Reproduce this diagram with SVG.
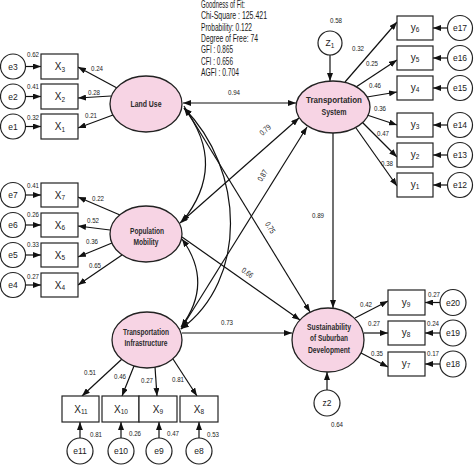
<svg xmlns="http://www.w3.org/2000/svg" width="474" height="467" viewBox="0 0 474 467">
<defs>
<marker id="ah" viewBox="0 0 8 6" refX="8" refY="3" markerWidth="8" markerHeight="6" markerUnits="userSpaceOnUse" orient="auto-start-reverse"><path d="M0,0 L8,3 L0,6 z" fill="#111"/></marker>
<style>
text{font-family:"Liberation Sans",Arial,sans-serif;fill:#1a1a1a}
.c{stroke:#111;stroke-width:1.2;fill:none}
.a{marker-end:url(#ah)}
.d{marker-start:url(#ah);marker-end:url(#ah)}
.box{fill:#fff;stroke:#222;stroke-width:1.2}
.cir{fill:#fff;stroke:#222;stroke-width:1.2}
.lat{fill:#f7d4e4;stroke:#222;stroke-width:1.3}
.n{font-size:8px;text-anchor:middle}
.t{font-size:9px;text-anchor:middle;font-weight:bold;fill:#2a2a2a}
.v{font-size:10px;text-anchor:middle}
.e{font-size:8.5px;text-anchor:middle}
.s{font-size:6.5px}
.g{font-size:10px}
</style>
</defs>
<rect width="474" height="467" fill="#fff"/>

<g id="fit">
<text class="g" x="201" y="8" textLength="44" lengthAdjust="spacingAndGlyphs">Goodness of Fit:</text>
<text class="g" x="201" y="19" textLength="66" lengthAdjust="spacingAndGlyphs">Chi-Square : 125.421</text>
<text class="g" x="201" y="31" textLength="51" lengthAdjust="spacingAndGlyphs">Probability: 0.122</text>
<text class="g" x="201" y="42" textLength="57" lengthAdjust="spacingAndGlyphs">Degree of Free: 74</text>
<text class="g" x="201" y="53" textLength="32" lengthAdjust="spacingAndGlyphs">GFI : 0.865</text>
<text class="g" x="201" y="65" textLength="32" lengthAdjust="spacingAndGlyphs">CFI : 0.656</text>
<text class="g" x="201" y="76" textLength="38" lengthAdjust="spacingAndGlyphs">AGFI : 0.704</text>
</g>

<g id="connectors">
<path class="c a" d="M25.5,66.5 H41"/>
<path class="c a" d="M25.5,96.5 H41"/>
<path class="c a" d="M25.5,126.5 H41"/>
<path class="c a" d="M25.5,195 H41"/>
<path class="c a" d="M25.5,225 H41"/>
<path class="c a" d="M25.5,255 H41"/>
<path class="c a" d="M25.5,285 H41"/>
<path class="c a" d="M117,88 L78,67"/>
<path class="c a" d="M111,96 L78,98"/>
<path class="c a" d="M113,115 L78,128"/>
<path class="c a" d="M120,215 L78,197"/>
<path class="c a" d="M110,230 L78,226"/>
<path class="c a" d="M112,243 L78,257"/>
<path class="c a" d="M122,255 L78,285"/>
<path class="c a" d="M122,359 L82,396"/>
<path class="c a" d="M134,366 L122,396"/>
<path class="c a" d="M155,367 L157,396"/>
<path class="c a" d="M173,359 L197,396"/>
<path class="c a" d="M80,438 V422"/>
<path class="c a" d="M121,438 V422"/>
<path class="c a" d="M159,438 V422"/>
<path class="c a" d="M199,438 V422"/>
<path class="c a" d="M345,82 L397,22"/>
<path class="c a" d="M356,87 L397,60"/>
<path class="c a" d="M367,97 L397,92"/>
<path class="c a" d="M367,115 L397,125"/>
<path class="c a" d="M362,122 L397,157"/>
<path class="c a" d="M356,128 L397,186"/>
<path class="c a" d="M447.5,28 H433"/>
<path class="c a" d="M447.5,58 H433"/>
<path class="c a" d="M447.5,88 H433"/>
<path class="c a" d="M447.5,125 H433"/>
<path class="c a" d="M447.5,155 H433"/>
<path class="c a" d="M447.5,185 H433"/>
<path class="c a" d="M355,318 L388,301"/>
<path class="c a" d="M364,333 L388,333"/>
<path class="c a" d="M361,353 L388,367"/>
<path class="c a" d="M440,302.5 H425"/>
<path class="c a" d="M440,333 H425"/>
<path class="c a" d="M440,364 H425"/>
<path class="c a" d="M330,55 V81"/>
<path class="c a" d="M327,390 V372"/>
<path class="c d" d="M183,103 L296,103"/>
<path class="c d" d="M180,223 L299,118"/>
<path class="c a" d="M181,329 L307,127"/>
<path class="c a" d="M184,106 L310,312"/>
<path class="c a" d="M182,237 L300,320"/>
<path class="c a" d="M182,333 L292,333"/>
<path class="c a" d="M333,133 L333,308"/>
<path class="c d" d="M184,108 Q228,165 182,222"/>
<path class="c d" d="M184,108 C245,170 248,280 181,329"/>
<path class="c d" d="M182,239 Q214,283 181,327"/>
</g>

<g id="path-labels">
<text class="n" x="234" y="95" textLength="12" lengthAdjust="spacingAndGlyphs">0.94</text>
<text class="n" transform="translate(267,132) rotate(-41)" textLength="12" lengthAdjust="spacingAndGlyphs">0.79</text>
<text class="n" transform="translate(265,177) rotate(-58)" textLength="12" lengthAdjust="spacingAndGlyphs">0.87</text>
<text class="n" transform="translate(268,229) rotate(58)" textLength="12" lengthAdjust="spacingAndGlyphs">0.75</text>
<text class="n" transform="translate(246,275) rotate(35)" textLength="12" lengthAdjust="spacingAndGlyphs">0.66</text>
<text class="n" x="227" y="325" textLength="12" lengthAdjust="spacingAndGlyphs">0.73</text>
<text class="n" x="318" y="218" textLength="12" lengthAdjust="spacingAndGlyphs">0.89</text>
<text class="n" x="336" y="23" textLength="12" lengthAdjust="spacingAndGlyphs">0.58</text>
<text class="n" x="337" y="427" textLength="12" lengthAdjust="spacingAndGlyphs">0.64</text>
<text class="n" x="33" y="57" textLength="12" lengthAdjust="spacingAndGlyphs">0.62</text>
<text class="n" x="33" y="89" textLength="12" lengthAdjust="spacingAndGlyphs">0.41</text>
<text class="n" x="33" y="120" textLength="12" lengthAdjust="spacingAndGlyphs">0.32</text>
<text class="n" x="97" y="71" textLength="12" lengthAdjust="spacingAndGlyphs">0.24</text>
<text class="n" x="94" y="95" textLength="12" lengthAdjust="spacingAndGlyphs">0.28</text>
<text class="n" x="91" y="118" textLength="12" lengthAdjust="spacingAndGlyphs">0.21</text>
<text class="n" x="33" y="188" textLength="12" lengthAdjust="spacingAndGlyphs">0.41</text>
<text class="n" x="33" y="217" textLength="12" lengthAdjust="spacingAndGlyphs">0.26</text>
<text class="n" x="33" y="247" textLength="12" lengthAdjust="spacingAndGlyphs">0.33</text>
<text class="n" x="33" y="279" textLength="12" lengthAdjust="spacingAndGlyphs">0.27</text>
<text class="n" x="98" y="201" textLength="12" lengthAdjust="spacingAndGlyphs">0.22</text>
<text class="n" x="93" y="223" textLength="12" lengthAdjust="spacingAndGlyphs">0.52</text>
<text class="n" x="92" y="244" textLength="12" lengthAdjust="spacingAndGlyphs">0.36</text>
<text class="n" x="95" y="268" textLength="12" lengthAdjust="spacingAndGlyphs">0.65</text>
<text class="n" x="90" y="375" textLength="12" lengthAdjust="spacingAndGlyphs">0.51</text>
<text class="n" x="120" y="379" textLength="12" lengthAdjust="spacingAndGlyphs">0.46</text>
<text class="n" x="147" y="383" textLength="12" lengthAdjust="spacingAndGlyphs">0.27</text>
<text class="n" x="178" y="382" textLength="12" lengthAdjust="spacingAndGlyphs">0.81</text>
<text class="n" x="96" y="437" textLength="12" lengthAdjust="spacingAndGlyphs">0.81</text>
<text class="n" x="135" y="436" textLength="12" lengthAdjust="spacingAndGlyphs">0.26</text>
<text class="n" x="173" y="436" textLength="12" lengthAdjust="spacingAndGlyphs">0.47</text>
<text class="n" x="213" y="437" textLength="12" lengthAdjust="spacingAndGlyphs">0.53</text>
<text class="n" x="358" y="51" textLength="12" lengthAdjust="spacingAndGlyphs">0.32</text>
<text class="n" x="372" y="66" textLength="12" lengthAdjust="spacingAndGlyphs">0.25</text>
<text class="n" x="375" y="88" textLength="12" lengthAdjust="spacingAndGlyphs">0.46</text>
<text class="n" x="380" y="111" textLength="12" lengthAdjust="spacingAndGlyphs">0.36</text>
<text class="n" x="383" y="136" textLength="12" lengthAdjust="spacingAndGlyphs">0.47</text>
<text class="n" x="387" y="166" textLength="12" lengthAdjust="spacingAndGlyphs">0.38</text>
<text class="n" x="366" y="307" textLength="12" lengthAdjust="spacingAndGlyphs">0.42</text>
<text class="n" x="374" y="326" textLength="12" lengthAdjust="spacingAndGlyphs">0.27</text>
<text class="n" x="377" y="356" textLength="12" lengthAdjust="spacingAndGlyphs">0.35</text>
<text class="n" x="434" y="297" textLength="12" lengthAdjust="spacingAndGlyphs">0.27</text>
<text class="n" x="433" y="326" textLength="12" lengthAdjust="spacingAndGlyphs">0.24</text>
<text class="n" x="433" y="356" textLength="12" lengthAdjust="spacingAndGlyphs">0.17</text>
</g>

<g id="land-use"><ellipse class="lat" cx="146" cy="104" rx="36" ry="28"/><text class="t" x="146" y="107" textLength="31" lengthAdjust="spacingAndGlyphs">Land Use</text></g>
<g id="population-mobility"><ellipse class="lat" cx="146" cy="234" rx="36" ry="28"/><text class="t" x="147" y="234" textLength="34" lengthAdjust="spacingAndGlyphs">Population</text><text class="t" x="146" y="245" textLength="25" lengthAdjust="spacingAndGlyphs">Mobility</text></g>
<g id="transportation-infrastructure"><ellipse class="lat" cx="147" cy="340" rx="35" ry="28"/><text class="t" x="146" y="335" textLength="46" lengthAdjust="spacingAndGlyphs">Transportation</text><text class="t" x="146" y="346" textLength="43" lengthAdjust="spacingAndGlyphs">Infrastructure</text></g>
<g id="transportation-system"><ellipse class="lat" cx="333" cy="107" rx="37" ry="26"/><text class="t" x="334" y="103" textLength="56" lengthAdjust="spacingAndGlyphs">Transportation</text><text class="t" x="334" y="115" textLength="25" lengthAdjust="spacingAndGlyphs">System</text></g>
<g id="sustainability"><ellipse class="lat" cx="328" cy="340" rx="36" ry="32"/><text class="t" x="329" y="330" textLength="44" lengthAdjust="spacingAndGlyphs">Sustainability</text><text class="t" x="329" y="341" textLength="38" lengthAdjust="spacingAndGlyphs">of Suburban</text><text class="t" x="329" y="353" textLength="42" lengthAdjust="spacingAndGlyphs">Development</text></g>

<g id="z1"><circle class="cir" cx="330" cy="43" r="12"/><text class="e" x="330" y="46">Z<tspan class="s" dy="1.5">1</tspan></text></g>
<g id="z2"><circle class="cir" cx="327" cy="403" r="13"/><text class="e" x="327" y="406">z2</text></g>

<g id="X3"><rect class="box" x="41" y="54" width="37" height="25"/><text class="v" x="60" y="70">X<tspan class="s" dy="1.5">3</tspan></text></g>
<g id="X2"><rect class="box" x="41" y="84" width="37" height="25"/><text class="v" x="60" y="100">X<tspan class="s" dy="1.5">2</tspan></text></g>
<g id="X1"><rect class="box" x="41" y="114" width="37" height="25"/><text class="v" x="60" y="130">X<tspan class="s" dy="1.5">1</tspan></text></g>
<g id="X7"><rect class="box" x="41" y="183" width="37" height="24"/><text class="v" x="60" y="198.5">X<tspan class="s" dy="1.5">7</tspan></text></g>
<g id="X6"><rect class="box" x="41" y="213" width="37" height="24"/><text class="v" x="60" y="228.5">X<tspan class="s" dy="1.5">6</tspan></text></g>
<g id="X5"><rect class="box" x="41" y="243" width="37" height="24"/><text class="v" x="60" y="258.5">X<tspan class="s" dy="1.5">5</tspan></text></g>
<g id="X4"><rect class="box" x="41" y="273" width="37" height="24"/><text class="v" x="60" y="288.5">X<tspan class="s" dy="1.5">4</tspan></text></g>
<g id="X11"><rect class="box" x="62" y="396" width="37" height="26"/><text class="v" x="81" y="412.5">X<tspan class="s" dy="1.5">11</tspan></text></g>
<g id="X10"><rect class="box" x="102" y="396" width="37" height="26"/><text class="v" x="121" y="412.5">X<tspan class="s" dy="1.5">10</tspan></text></g>
<g id="X9"><rect class="box" x="139" y="396" width="38" height="26"/><text class="v" x="158" y="412.5">X<tspan class="s" dy="1.5">9</tspan></text></g>
<g id="X8"><rect class="box" x="180" y="396" width="38" height="26"/><text class="v" x="199" y="412.5">X<tspan class="s" dy="1.5">8</tspan></text></g>

<g id="y6"><rect class="box" x="397" y="16" width="36" height="24"/><text class="v" x="415" y="31">y<tspan class="s" dy="1">6</tspan></text></g>
<g id="y5"><rect class="box" x="397" y="46" width="36" height="24"/><text class="v" x="415" y="61">y<tspan class="s" dy="1">5</tspan></text></g>
<g id="y4"><rect class="box" x="397" y="76" width="36" height="24"/><text class="v" x="415" y="91">y<tspan class="s" dy="1">4</tspan></text></g>
<g id="y3"><rect class="box" x="397" y="113" width="36" height="24"/><text class="v" x="415" y="128">y<tspan class="s" dy="1">3</tspan></text></g>
<g id="y2"><rect class="box" x="397" y="143" width="36" height="24"/><text class="v" x="415" y="158">y<tspan class="s" dy="1">2</tspan></text></g>
<g id="y1"><rect class="box" x="397" y="173" width="36" height="24"/><text class="v" x="415" y="188">y<tspan class="s" dy="1">1</tspan></text></g>
<g id="y9"><rect class="box" x="388" y="290" width="37" height="25"/><text class="v" x="406" y="305.5">y<tspan class="s" dy="1">9</tspan></text></g>
<g id="y8"><rect class="box" x="388" y="321" width="37" height="24"/><text class="v" x="406" y="336">y<tspan class="s" dy="1">8</tspan></text></g>
<g id="y7"><rect class="box" x="388" y="352" width="37" height="24"/><text class="v" x="406" y="367">y<tspan class="s" dy="1">7</tspan></text></g>

<g id="e3"><circle class="cir" cx="13" cy="66.5" r="12.5"/><text class="e" x="13" y="69.5">e3</text></g>
<g id="e2"><circle class="cir" cx="13" cy="96.5" r="12.5"/><text class="e" x="13" y="99.5">e2</text></g>
<g id="e1"><circle class="cir" cx="13" cy="126.5" r="12.5"/><text class="e" x="13" y="129.5">e1</text></g>
<g id="e7"><circle class="cir" cx="13" cy="195" r="12.5"/><text class="e" x="13" y="198">e7</text></g>
<g id="e6"><circle class="cir" cx="13" cy="225" r="12.5"/><text class="e" x="13" y="228">e6</text></g>
<g id="e5"><circle class="cir" cx="13" cy="255" r="12.5"/><text class="e" x="13" y="258">e5</text></g>
<g id="e4"><circle class="cir" cx="13" cy="285" r="12.5"/><text class="e" x="13" y="288">e4</text></g>
<g id="e11"><circle class="cir" cx="80" cy="451" r="13"/><text class="e" x="80" y="454">e11</text></g>
<g id="e10"><circle class="cir" cx="121" cy="451" r="13"/><text class="e" x="121" y="454">e10</text></g>
<g id="e9"><circle class="cir" cx="159" cy="451" r="13"/><text class="e" x="159" y="454">e9</text></g>
<g id="e8"><circle class="cir" cx="199" cy="451" r="13"/><text class="e" x="199" y="454">e8</text></g>
<g id="e17"><circle class="cir" cx="460" cy="28" r="12.5"/><text class="e" x="460" y="31">e17</text></g>
<g id="e16"><circle class="cir" cx="460" cy="58" r="12.5"/><text class="e" x="460" y="61">e16</text></g>
<g id="e15"><circle class="cir" cx="460" cy="88" r="12.5"/><text class="e" x="460" y="91">e15</text></g>
<g id="e14"><circle class="cir" cx="460" cy="125" r="12.5"/><text class="e" x="460" y="128">e14</text></g>
<g id="e13"><circle class="cir" cx="460" cy="155" r="12.5"/><text class="e" x="460" y="158">e13</text></g>
<g id="e12"><circle class="cir" cx="460" cy="185" r="12.5"/><text class="e" x="460" y="188">e12</text></g>
<g id="e20"><circle class="cir" cx="453" cy="302.5" r="13"/><text class="e" x="453" y="305.5">e20</text></g>
<g id="e19"><circle class="cir" cx="453" cy="333" r="13"/><text class="e" x="453" y="336">e19</text></g>
<g id="e18"><circle class="cir" cx="453" cy="364" r="13"/><text class="e" x="453" y="367">e18</text></g>
</svg>
